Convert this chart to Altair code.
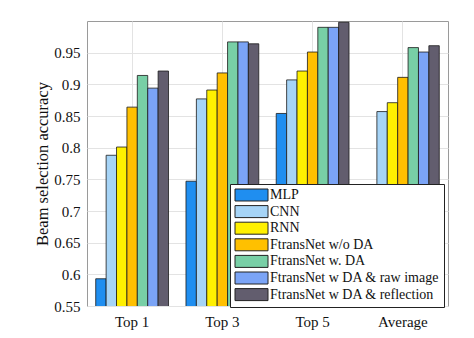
import altair as alt
import pandas as pd

groups = ["Top 1", "Top 3", "Top 5", "Average"]
models = ["MLP", "CNN", "RNN", "FtransNet w/o DA", "FtransNet w. DA",
          "FtransNet w DA & raw image", "FtransNet w DA & reflection"]
colors = ["#1f8ef0", "#a6d4f7", "#fff000", "#ffc000", "#78cfa6", "#7ba4f6", "#625d6e"]

mlp = [0.593, 0.747, 0.854, 0.731]
cnn = [0.788, 0.877, 0.907, 0.857]
rnn = [0.801, 0.891, 0.921, 0.871]
wo_da = [0.864, 0.918, 0.951, 0.911]
w_da = [0.914, 0.967, 0.990, 0.958]
raw_img = [0.894, 0.967, 0.990, 0.951]
reflection = [0.921, 0.964, 0.998, 0.961]

series = [mlp, cnn, rnn, wo_da, w_da, raw_img, reflection]
rows = []
for m, vals in zip(models, series):
    for g, v in zip(groups, vals):
        rows.append({"group": g, "model": m, "acc": v})
df = pd.DataFrame(rows)

font = "Liberation Serif"
yticks = [0.55, 0.6, 0.65, 0.7, 0.75, 0.8, 0.85, 0.9, 0.95]

chart = alt.Chart(df).mark_bar(clip=True, stroke="#1a1a1a", strokeWidth=0.8).encode(
    x=alt.X("group:N", sort=groups, title=None,
            scale=alt.Scale(paddingInner=0, paddingOuter=0),
            axis=alt.Axis(labelAngle=0, bandPosition=0.5, ticks=False, domain=False,
                          labelFont=font, labelFontSize=15, labelColor="#111",
                          labelPadding=8, grid=True, gridColor="#e3e3e3")),
    xOffset=alt.XOffset("model:N", sort=models,
                        scale=alt.Scale(paddingInner=0, paddingOuter=0.84)),
    y=alt.Y("acc:Q", title="Beam selection accuracy",
            scale=alt.Scale(domain=[0.55, 1.0], zero=False, nice=False),
            axis=alt.Axis(values=yticks, format="~g", ticks=False, domain=False,
                          labelFont=font, labelFontSize=15, labelColor="#111",
                          labelPadding=7, titleFont=font, titleFontSize=16.5,
                          titleFontWeight="normal", titleColor="#111", titlePadding=3,
                          grid=True, gridColor="#e3e3e3")),
    color=alt.Color("model:N", sort=models,
                    scale=alt.Scale(domain=models, range=colors),
                    legend=alt.Legend(title=None, orient="none", legendX=143, legendY=163,
                                      fillColor="white", strokeColor="#222", padding=4,
                                      symbolType="M-1,-1H4.5V1H-1Z", symbolSize=144,
                                      symbolStrokeColor="#222", symbolStrokeWidth=1,
                                      symbolOpacity=1, labelOffset=22,
                                      labelFont=font, labelFontSize=14, labelColor="#111",
                                      labelFontWeight="normal",
                                      labelLimit=300, rowPadding=0.6)),
).properties(
    width=361, height=285,
    padding={"left": 87, "top": 21, "right": 26, "bottom": 32},
    autosize=alt.AutoSizeParams(type="none"),
).configure_view(stroke="#9a9a9a", strokeWidth=1)

chart.save("out.html", embed_options={"renderer": "svg", "actions": False})
